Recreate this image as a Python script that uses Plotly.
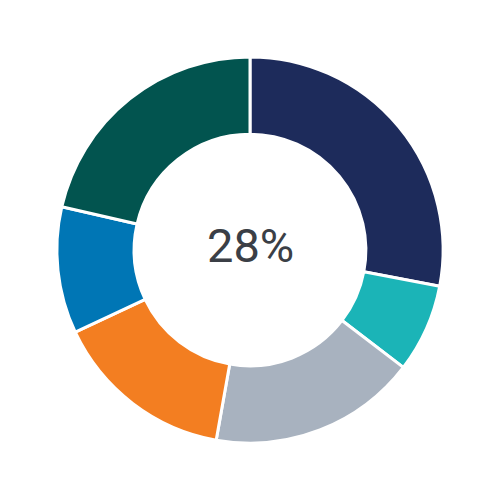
import plotly.graph_objects as go

labels = ["Navy", "Teal", "Gray", "Orange", "Blue", "Green"]
values = [28, 7.4, 17.4, 15.2, 10.6, 21.4]
colors = ["#1d2b5b", "#1bb4b7", "#a8b2bf", "#f37e21", "#0076b5", "#02544f"]
center_text = "28%"

fig = go.Figure()
fig.add_trace(go.Pie(
    labels=labels,
    values=values,
    hole=0.6,
    sort=False,
    direction="clockwise",
    rotation=0,
    textinfo="none",
    marker=dict(colors=colors, line=dict(color="white", width=3)),
    domain=dict(x=[0.101, 0.899], y=[0.101, 0.899]),
    showlegend=False,
))

# page body has an 8px margin, so the figure is a bit smaller than the window
fig.update_layout(
    width=484, height=484,
    margin=dict(l=0, r=0, t=0, b=0),
    paper_bgcolor="white",
    annotations=[dict(
        text=center_text, x=0.5, y=0.51, xref="paper", yref="paper",
        showarrow=False, font=dict(family="Roboto", size=47, color="#3b3f46"),
    )],
)

fig.write_html("out.html")
